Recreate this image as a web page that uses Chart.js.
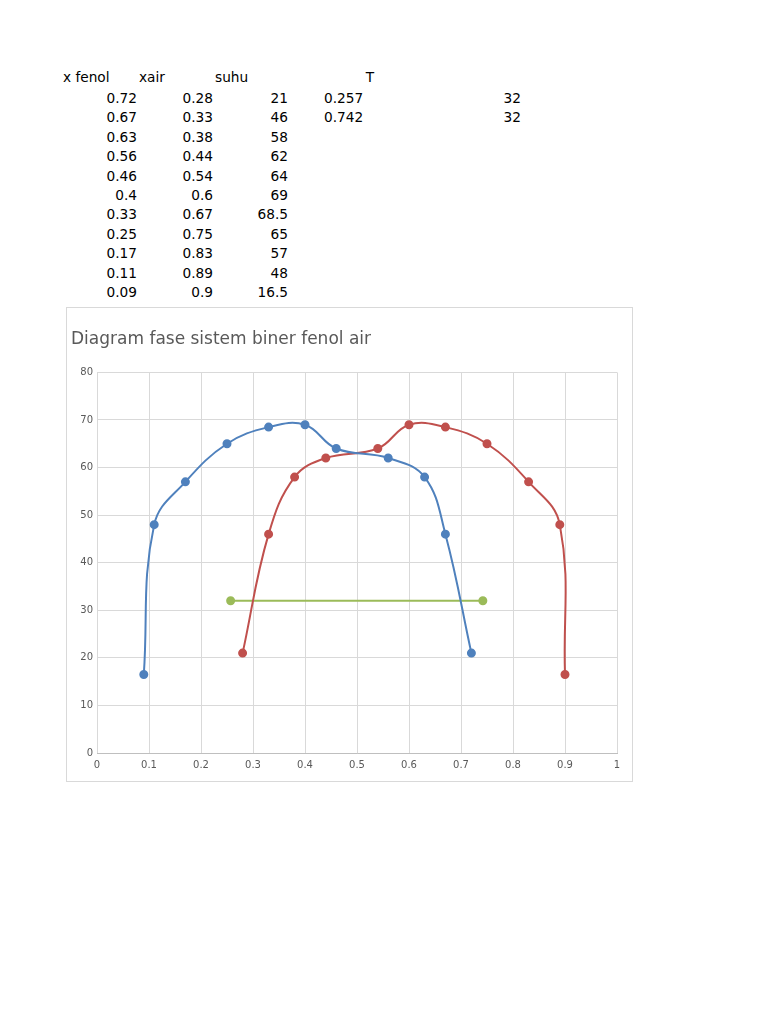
<!DOCTYPE html>
<html>
<head>
<meta charset="utf-8">
<script src="https://cdn.jsdelivr.net/npm/chart.js@4"></script>
<style>
  body { margin: 0; background: #fff; font-family: "DejaVu Sans", sans-serif; }
  #sheet { position: absolute; left: 0; top: 0; width: 768px; height: 300px; font-size: 13.7px; color: #000; }
  .cell { position: absolute; white-space: nowrap; line-height: 16px; }
  #box { position: absolute; left: 66px; top: 307px; width: 565px; height: 473px; border: 1px solid #d9d9d9; }
  #box canvas { display: block; }
</style>
</head>
<body>
<div id="sheet"></div>
<div id="box"><canvas id="phaseChart"></canvas></div>
<script>
const headers = ['x fenol', 'xair', 'suhu', 'T'];
const xFenol = [0.72, 0.67, 0.63, 0.56, 0.46, 0.4, 0.33, 0.25, 0.17, 0.11, 0.09];
const xAir = [0.28, 0.33, 0.38, 0.44, 0.54, 0.6, 0.67, 0.75, 0.83, 0.89, 0.9];
const suhu = [21, 46, 58, 62, 64, 69, 68.5, 65, 57, 48, 16.5];
const tieX = [0.257, 0.742];
const tieT = [32, 32];

document.addEventListener('DOMContentLoaded', () => {
  const sheet = document.getElementById('sheet');

  function addCell(text, x, y, align) {
    const el = document.createElement('div');
    el.className = 'cell';
    el.textContent = text;
    el.style.top = (y - 8) + 'px';
    if (align === 'right') {
      el.style.right = (768 - x) + 'px';
    } else if (align === 'center') {
      el.style.left = x + 'px';
      el.style.transform = 'translateX(-50%)';
    } else {
      el.style.left = x + 'px';
    }
    sheet.appendChild(el);
  }

  // header row
  addCell(headers[0], 63, 77, 'left');
  addCell(headers[1], 139, 77, 'left');
  addCell(headers[2], 215, 77, 'left');
  addCell(headers[3], 370, 77, 'center');

  xFenol.forEach((v, i) => {
    const y = 98 + i * 19.4;
    addCell(String(v), 137, y, 'right');
    addCell(String(xAir[i]), 213, y, 'right');
    addCell(String(suhu[i]), 288, y, 'right');
  });
  tieX.forEach((v, i) => {
    const y = 98 + i * 19.4;
    addCell(String(v), 324, y, 'left');
    addCell(String(tieT[i]), 521, y, 'right');
  });

  const ctx = document.getElementById('phaseChart').getContext('2d');
  const tickFont = { family: 'DejaVu Sans', size: 10 };

  new Chart(ctx, {
    type: 'scatter',
    data: {
      datasets: [
        {
          label: 'x fenol',
          data: xFenol.map((x, i) => ({ x, y: suhu[i] })),
          borderColor: '#4f81bd',
          backgroundColor: '#4f81bd',
          showLine: true,
          borderWidth: 2,
          tension: 0.4,
          pointRadius: 3.5
        },
        {
          label: 'xair',
          data: xAir.map((x, i) => ({ x, y: suhu[i] })),
          borderColor: '#c0504d',
          backgroundColor: '#c0504d',
          showLine: true,
          borderWidth: 2,
          tension: 0.4,
          pointRadius: 3.5
        },
        {
          label: 'T',
          data: tieX.map((x, i) => ({ x, y: tieT[i] })),
          borderColor: '#9bbb59',
          backgroundColor: '#9bbb59',
          showLine: true,
          borderWidth: 2,
          pointRadius: 3.5
        }
      ]
    },
    options: {
      responsive: true,
      maintainAspectRatio: false,
      animation: false,
      layout: { padding: { left: 4, right: 15, top: 0, bottom: 0 } },
      plugins: {
        legend: { display: false },
        tooltip: { enabled: false },
        title: {
          display: true,
          text: 'Diagram fase sistem biner fenol air',
          align: 'start',
          color: '#595959',
          font: { family: 'DejaVu Sans', size: 17, weight: 'normal' },
          padding: { top: 21, bottom: 23 }
        }
      },
      scales: {
        x: {
          type: 'linear',
          min: 0,
          max: 1,
          ticks: {
            stepSize: 0.1,
            color: '#595959',
            font: tickFont,
            padding: 6,
            callback: v => String(Math.round(v * 10) / 10)
          },
          grid: { color: '#d9d9d9', drawTicks: false },
          border: { color: '#bfbfbf' },
          afterFit: s => { s.height = 28; }
        },
        y: {
          min: 0,
          max: 80,
          ticks: { stepSize: 10, color: '#595959', font: tickFont, padding: 4 },
          grid: { color: '#d9d9d9', drawTicks: false },
          border: { display: false },
          afterFit: s => { s.width = 26; }
        }
      }
    }
  });
});
</script>
</body>
</html>
